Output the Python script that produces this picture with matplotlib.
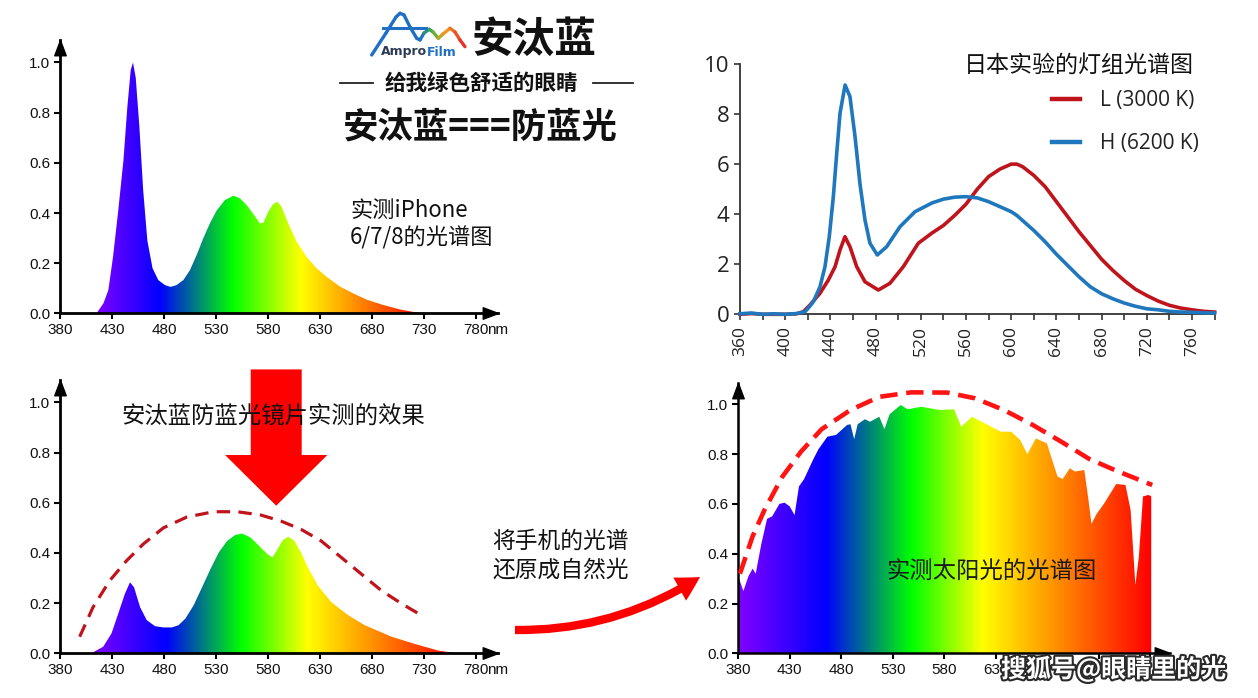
import numpy as np
import matplotlib
matplotlib.use('Agg')
import matplotlib.pyplot as plt
from matplotlib.colors import LinearSegmentedColormap
from matplotlib.patches import Polygon, FancyArrow, FancyArrowPatch
from matplotlib.collections import LineCollection
from matplotlib.lines import Line2D
import matplotlib.patheffects as pe

W, H = 1258, 698
CJK = ['Noto Sans CJK SC', 'DejaVu Sans']
LAT = ['Liberation Sans', 'DejaVu Sans']
OPEN = ['Open Sans', 'DejaVu Sans']

# ---------------- data ----------------
# panel 1: measured iPhone 6/7/8 spectrum
iphone_nm = [415, 421.7, 426.5, 431, 436, 441, 444.7, 448, 450.2, 452.8, 456.3, 460, 464, 469, 474.5,
             481, 486.4, 492, 498.6, 505, 511.4, 517.8, 524.2, 530.6, 538.6, 546.7, 553, 559.5, 566,
             572.3, 575.6, 580.3, 585, 589, 593, 599.5, 607.6, 617, 626.8, 636.4, 649, 662, 675, 690,
             707, 720, 732]
iphone_val = [0, 0.04, 0.093, 0.226, 0.41, 0.61, 0.82, 0.97, 1.0, 0.94, 0.745, 0.49, 0.29, 0.18, 0.133,
              0.113, 0.106, 0.113, 0.133, 0.173, 0.233, 0.30, 0.36, 0.41, 0.452, 0.469, 0.459, 0.432, 0.396,
              0.359, 0.362, 0.406, 0.436, 0.445, 0.426, 0.359, 0.286, 0.226, 0.18, 0.146, 0.108, 0.08, 0.055,
              0.035, 0.016, 0.006, 0]

# panel 3: spectrum through the lens + dashed envelope
lens_nm = [410, 421.5, 429.5, 436, 442.4, 447.3, 451.2, 457, 463.4, 471.4, 479.5, 487.6, 494, 500.5,
           508.5, 516.6, 524.7, 532.7, 540.8, 548.8, 555.3, 563.3, 571.4, 579.5, 584.3, 589.2, 594,
           599.5, 605.3, 611.8, 618.2, 627.9, 640.8, 656.9, 673, 698.8, 721.4, 744, 762]
lens_val = [0, 0.026, 0.079, 0.158, 0.237, 0.283, 0.263, 0.184, 0.132, 0.108, 0.103, 0.103, 0.112, 0.138,
            0.191, 0.263, 0.336, 0.402, 0.448, 0.472, 0.477, 0.461, 0.428, 0.395, 0.382, 0.415, 0.45,
            0.465, 0.448, 0.402, 0.343, 0.27, 0.204, 0.152, 0.112, 0.066, 0.037, 0.0105, 0]
lens_env_nm = [398.9, 411.8, 427.9, 444, 460, 479.5, 502, 527.8, 550.4, 573, 592.3, 611.7, 631, 650.4,
               669.7, 689, 708.4, 726]
lens_env_val = [0.066, 0.184, 0.29, 0.369, 0.435, 0.50, 0.543, 0.564, 0.564, 0.551, 0.527, 0.494, 0.448,
                0.382, 0.316, 0.25, 0.198, 0.155]

# panel 2: Japanese experiment lamp spectra
jpH_nm = [360, 370, 380, 390, 400, 410, 417.5, 421, 424.9, 430.8, 435.2, 439, 442.6, 445.6, 448.5, 453,
          457.3, 461.8, 466.2, 470.6, 475, 481.5, 489.8, 501.6, 514.9, 530, 540, 550, 560, 570, 580, 590,
          600, 605, 610, 620, 630, 640, 650, 660, 670, 680, 690, 700, 710, 720, 730, 740, 750, 760, 770, 780]
jpH_val = [0.02, 0.05, 0.0, 0.02, 0.0, 0.03, 0.1, 0.28, 0.5, 1.1, 1.9, 3.1, 4.7, 6.43, 8.03, 9.16,
           8.7, 7.1, 5.2, 3.77, 2.84, 2.37, 2.7, 3.5, 4.1, 4.45, 4.6, 4.68, 4.7, 4.65, 4.5, 4.3,
           4.1, 3.95, 3.75, 3.35, 2.9, 2.4, 1.95, 1.5, 1.1, 0.82, 0.62, 0.45, 0.32, 0.22, 0.18, 0.12, 0.09,
           0.08, 0.06, 0.05]
jpL_nm = [360, 370, 380, 390, 400, 410, 416, 421.9, 430.8, 438.2, 444.1, 448.5, 452.9, 457.3, 463.3, 470.6,
          482.4, 492.7, 504.5, 517.8, 530, 540, 550, 560, 570, 580, 590, 600, 605, 610, 620, 630, 640, 650,
          660, 670, 680, 690, 700, 710, 720, 730, 740, 750, 760, 770, 780]
jpL_val = [0.0, 0.03, 0.0, 0.0, 0.0, 0.02, 0.1, 0.37, 0.84, 1.37, 1.9, 2.57, 3.1, 2.7, 1.9, 1.3,
           0.97, 1.24, 1.9, 2.84, 3.25, 3.55, 3.95, 4.4, 5.0, 5.5, 5.8, 6.0, 6.0, 5.9, 5.55, 5.1, 4.5, 3.9,
           3.3, 2.75, 2.2, 1.75, 1.35, 1.0, 0.75, 0.53, 0.36, 0.25, 0.18, 0.12, 0.09]
jp_labels = ['L (3000 K)', 'H (6200 K)']

# panel 4: measured sunlight spectrum + dashed envelope
sun_nm = [380, 385, 390, 394, 397, 402.5, 408, 413, 420, 425, 430, 434.7, 439, 444, 453, 458, 466.6, 475,
          485.7, 489, 492.6, 496, 503, 508, 517, 522, 527, 537.7, 544.6, 558, 575.8, 589.6, 596.6, 607,
          621, 635, 645, 653.7, 660.7, 669, 679.7, 690, 695, 702, 707, 716, 719.6, 723, 728, 735, 747,
          756, 761, 765.6, 769, 773, 778.5, 781]
sun_val = [0.31, 0.25, 0.31, 0.34, 0.32, 0.44, 0.54, 0.55, 0.60, 0.605, 0.59, 0.555, 0.67, 0.70, 0.78,
           0.82, 0.87, 0.877, 0.917, 0.92, 0.86, 0.92, 0.94, 0.93, 0.95, 0.90, 0.96, 0.997, 0.98, 0.99,
           0.977, 0.98, 0.91, 0.95, 0.92, 0.89, 0.89, 0.857, 0.80, 0.863, 0.843, 0.71, 0.70, 0.743, 0.73,
           0.736, 0.63, 0.52, 0.56, 0.60, 0.68, 0.676, 0.575, 0.274, 0.388, 0.63, 0.636, 0.63]
sun_env_nm = [381.7, 394, 406, 423, 441, 461, 489, 517, 548, 583, 610, 638, 666, 693.6, 721, 749, 782]
sun_env_val = [0.32, 0.47, 0.58, 0.71, 0.81, 0.90, 0.977, 1.03, 1.048, 1.047, 1.024, 0.977, 0.917, 0.85,
               0.78, 0.73, 0.676]

spec_ticks = [380, 430, 480, 530, 580, 630, 680, 730, 780]
spec_tick_labels = ['380', '430', '480', '530', '580', '630', '680', '730', '780']
sun_tick_labels = ['380', '430', '480', '530', '580', '630', '', '', '']
val_ticks = [0.0, 0.2, 0.4, 0.6, 0.8, 1.0]
val_tick_labels = ['0.0', '0.2', '0.4', '0.6', '0.8', '1.0']
jp_major = [360, 400, 440, 480, 520, 560, 600, 640, 680, 720, 760]
jp_minor = [380, 420, 460, 500, 540, 580, 620, 660, 700, 740, 780]
jp_yticks = [0, 2, 4, 6, 8, 10]

# ---------------- figure ----------------
fig = plt.figure(figsize=(W / 100, H / 100), dpi=100)
fig.patch.set_facecolor('white')


def rect(left, top, right, bottom):
    return [left / W, 1 - bottom / H, (right - left) / W, (bottom - top) / H]


def fx(x):
    return x / W


def fy(y):
    return 1 - y / H


ARROW_R = [(0, 0), (-2, 0.75), (-2, -0.75), (0, 0)]
ARROW_U = [(0, 0), (0.75, -2), (-0.75, -2), (0, 0)]


def spec_axes(r, xmax, ymax, fs, xlabels, lw=2.0):
    ax = fig.add_axes(rect(*r))
    ax.patch.set_alpha(0)
    for s in ['top', 'right']:
        ax.spines[s].set_visible(False)
    for s in ['left', 'bottom']:
        ax.spines[s].set_linewidth(lw)
        ax.spines[s].set_color('black')
    ax.set_xticks(spec_ticks)
    ax.set_xticklabels(xlabels, family=LAT, fontsize=fs, color='#111')
    ax.set_yticks(val_ticks)
    ax.set_yticklabels(val_tick_labels, family=LAT, fontsize=fs, color='#111')
    ax.tick_params(direction='out', length=4, width=1.5, pad=3, colors='black')
    ax.tick_params(axis='both', labelcolor='#111')
    ax.plot([1], [0], marker=ARROW_R, ms=22, color='black', transform=ax.transAxes, clip_on=False, zorder=6)
    ax.plot([0], [1], marker=ARROW_U, ms=22, color='black', transform=ax.transAxes, clip_on=False, zorder=6)
    return ax


def gradient_fill(ax, x, y, stops, ymax):
    x = np.asarray(x, float)
    y = np.asarray(y, float)
    x0, x1 = x.min(), x.max()
    cmap = LinearSegmentedColormap.from_list('spec', [((s - x0) / (x1 - x0), c) for s, c in stops])
    grad = np.linspace(0, 1, 600).reshape(1, -1)
    im = ax.imshow(grad, extent=[x0, x1, 0, ymax], aspect='auto', cmap=cmap, origin='lower',
                   interpolation='bilinear', zorder=1)
    verts = np.column_stack([np.r_[x, x[::-1]], np.r_[y, np.zeros(len(y))]])
    poly = Polygon(verts, closed=True, facecolor='none', edgecolor='none', transform=ax.transData)
    ax.add_patch(poly)
    im.set_clip_path(poly)


# ---- panel 1 ----
P13_XMAX = 380 + 438 / 1.04
ax1 = spec_axes((60, 40, 498, 313.5), P13_XMAX, 273.5 / 251, 11, spec_tick_labels)
gradient_fill(ax1, iphone_nm, iphone_val,
              [(415, '#8000ff'), (476, '#0000ff'), (546, '#00ff00'), (612, '#ffff00'), (732, '#ff0000')],
              1.05)
ax1.set_xlim(380, P13_XMAX)
ax1.set_ylim(0, 273.5 / 251)
ax1.annotate('nm', xy=(780, 0), xytext=(8.3, -7), textcoords='offset points', ha='left', va='top',
             family=LAT, fontsize=11, color='#111')

# ---- panel 3 ----
ax3 = spec_axes((60, 380, 498, 653.3), P13_XMAX, 273.3 / 251, 11, spec_tick_labels)
gradient_fill(ax3, lens_nm, lens_val,
              [(410, '#8000ff'), (482, '#0000ff'), (554, '#00ff00'), (618, '#ffff00'), (762, '#ff0000')],
              1.05)
ax3.plot(lens_env_nm, lens_env_val, color='#c0141c', lw=2.3, dashes=(4.2, 2.6), zorder=3,
         dash_capstyle='butt')
ax3.set_xlim(380, P13_XMAX)
ax3.set_ylim(0, 273.3 / 251)
ax3.annotate('nm', xy=(780, 0), xytext=(8.3, -7), textcoords='offset points', ha='left', va='top',
             family=LAT, fontsize=11, color='#111')
# big red down arrow
ax3.add_patch(FancyArrow(587.9, 1.131, 0, -(1.131 - 0.588), width=49, head_width=98.3,
                         head_length=0.202, length_includes_head=True, color='#ff0000', lw=0,
                         clip_on=False, zorder=5))

# ---- panel 4 ----
P4_XMAX = 380 + (1170 - 738.2) / 1.03
ax4 = spec_axes((738.2, 383, 1170, 653.3), P4_XMAX, 270.3 / 249, 11, sun_tick_labels, lw=1.8)
gradient_fill(ax4, sun_nm, sun_val,
              [(380, '#8000ff'), (465, '#0000ff'), (548, '#00ff00'), (617, '#ffff00'), (781, '#ff0000')],
              1.05)
ax4.plot(sun_env_nm, sun_env_val, color='#ff1414', lw=3.3, dashes=(3.8, 1.9), zorder=3,
         dash_capstyle='butt')
ax4.set_xlim(380, P4_XMAX)
ax4.set_ylim(0, 270.3 / 249)

# ---- panel 2 ----
ax2 = fig.add_axes(rect(740, 64, 740 + 420 * 1.13, 314.3))
ax2.patch.set_alpha(0)
for s in ['top', 'right']:
    ax2.spines[s].set_visible(False)
for s in ['left', 'bottom']:
    ax2.spines[s].set_linewidth(1.3)
    ax2.spines[s].set_color('#333333')
lL, = ax2.plot(jpL_nm, jpL_val, color='#c0141c', lw=2.6, clip_on=False, zorder=3,
               solid_joinstyle='round')
lH, = ax2.plot(jpH_nm, jpH_val, color='#1f77bd', lw=2.6, clip_on=False, zorder=4,
               solid_joinstyle='round')
ax2.set_xlim(360, 780)
ax2.set_ylim(0, 10)
ax2.set_xticks(jp_major)
ax2.set_xticklabels([str(v) for v in jp_major], rotation=90, family=OPEN, fontsize=12.5, color='#333')
ax2.set_xticks(jp_minor, minor=True)
ax2.set_yticks(jp_yticks)
ax2.set_yticklabels([str(v) for v in jp_yticks], family=OPEN, fontsize=16, color='#222')
ax2.tick_params(which='both', direction='out', length=4.5, width=1.2, colors='#333', pad=3)
ax2.tick_params(axis='x', which='both', pad=4)
ax2.tick_params(axis='both', labelcolor='#222')
leg = ax2.legend([lL, lH], jp_labels, loc='upper left', bbox_to_anchor=(fx(1051.5), fy(90)),
                 bbox_transform=fig.transFigure, frameon=False, handlelength=1.35, handletextpad=1.0,
                 labelspacing=1.05, borderpad=0, borderaxespad=0,
                 prop={'family': OPEN, 'size': 15})
for t in leg.get_texts():
    t.set_color('#222')
for ln in leg.get_lines():
    ln.set_linewidth(3.2)

# ---------------- texts ----------------
fig.text(fx(350), fy(210), '实测iPhone', family=CJK, fontsize=16, ha='left', va='center', color='#111')
fig.text(fx(350), fy(238), '6/7/8的光谱图', family=CJK, fontsize=16, ha='left', va='center', color='#111')
fig.text(fx(121), fy(416.7), '安汰蓝防蓝光镜片实测的效果', family=CJK, fontsize=16.8, ha='left',
         va='center', color='#111', zorder=10)
fig.text(fx(964), fy(65), '日本实验的灯组光谱图', family=CJK, fontsize=16.6, ha='left', va='center', color='#111')
fig.text(fx(492), fy(541.7), '将手机的光谱', family=CJK, fontsize=16.4, ha='left', va='center', color='#111')
fig.text(fx(492), fy(570), '还原成自然光', family=CJK, fontsize=16.4, ha='left', va='center', color='#111')
fig.text(fx(886), fy(571), '实测太阳光的光谱图', family=CJK, fontsize=16.8, ha='left', va='center',
         color='#1a1a1a', zorder=10)
fig.text(fx(1001), fy(669), '搜狐号@眼睛里的光', family=CJK, fontsize=18, weight='bold', ha='left',
         va='center', color='white', zorder=20,
         path_effects=[pe.withStroke(linewidth=3, foreground='#2a2a2a')])

# curved red arrow
fig.add_artist(FancyArrowPatch((fx(515), fy(630)), (fx(700), fy(577)), transform=fig.transFigure,
                               connectionstyle='arc3,rad=0.15',
                               arrowstyle='simple,head_length=0.85,head_width=0.95,tail_width=0.3',
                               mutation_scale=20, color='#ff0000', lw=0, shrinkA=0, shrinkB=0, zorder=5))

# ---------------- logo ----------------
wave = np.array([(371.7, 55), (386, 33), (396, 17), (400, 13.3), (404, 15), (410, 27), (416.7, 38.3),
                 (420, 40), (424, 33), (429.3, 29.3), (433, 32), (438.3, 38.3), (443, 34), (450, 28.3),
                 (455, 32), (460, 40), (465, 46.7)])
wx = wave[:, 0] / W
wy = 1 - wave[:, 1] / H
segs = np.array([[[wx[i], wy[i]], [wx[i + 1], wy[i + 1]]] for i in range(len(wx) - 1)])
wave_cmap = LinearSegmentedColormap.from_list('wave', [(0, '#1f6fc5'), (0.45, '#1f6fc5'), (0.62, '#3cb043'),
                                                       (0.78, '#f0a020'), (1, '#e5322d')])
lc = LineCollection(segs, cmap=wave_cmap, linewidths=2.4, transform=fig.transFigure, capstyle='round',
                    joinstyle='round')
lc.set_array(np.linspace(0, 1, len(segs)))
fig.add_artist(lc)
fig.add_artist(Line2D([fx(383), fx(426)], [fy(28), fy(28)], color='#1f6fc5', lw=2.2,
                      transform=fig.transFigure))
fig.text(fx(380.5), fy(52), 'Ampro', family=['DejaVu Sans'], weight='bold', fontsize=9, ha='left',
         va='center', color='#2b3a55')
fig.text(fx(426.5), fy(52), 'Film', family=['DejaVu Sans'], weight='bold', fontsize=9, ha='left',
         va='center', color='#1f6fc5')
fig.text(fx(472), fy(40), '安汰蓝', family=CJK, weight='bold', fontsize=30, ha='left', va='center',
         color='#111')
fig.add_artist(Line2D([fx(340), fx(373)], [fy(83.3), fy(83.3)], color='#222', lw=1.3,
                      transform=fig.transFigure))
fig.add_artist(Line2D([fx(593), fx(633)], [fy(83.3), fy(83.3)], color='#222', lw=1.3,
                      transform=fig.transFigure))
fig.text(fx(385), fy(83), '给我绿色舒适的眼睛', family=CJK, weight='bold', fontsize=15.5, ha='left',
         va='center', color='#111')
fig.text(fx(343), fy(127), '安汰蓝===防蓝光', family=CJK, weight='bold', fontsize=25.5, ha='left',
         va='center', color='#111')

fig.savefig('out.png', dpi=100, facecolor='white')
